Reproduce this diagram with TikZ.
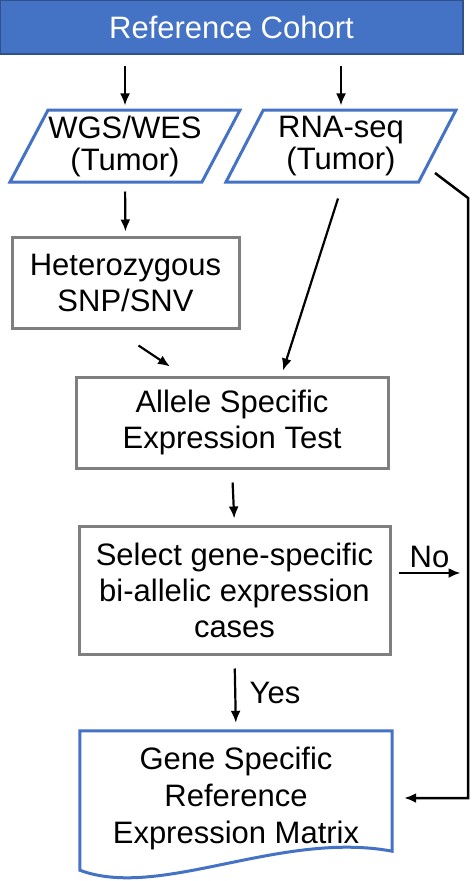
\documentclass[tikz,border=0pt]{standalone}
\usepackage{fontspec}
\setmainfont{Liberation Sans}
\usetikzlibrary{arrows.meta,shapes.geometric}
\definecolor{officeblue}{HTML}{4472C4}
\definecolor{darkblue}{HTML}{2F528F}
\definecolor{boxgray}{HTML}{7F7F7F}
\tikzstyle{title}=[rectangle, fill=officeblue, draw=darkblue, line width=2pt, text=white, font=\fontsize{31}{36}\selectfont]
\tikzstyle{data}=[trapezium, trapezium left angle=58, trapezium right angle=122, trapezium stretches body, draw=officeblue, line width=3pt, minimum width=230pt, minimum height=72pt, inner sep=0pt, align=center, font=\fontsize{31}{32}\selectfont]
\tikzstyle{process}=[rectangle, draw=boxgray, line width=3pt, align=center, font=\fontsize{31}{36}\selectfont]
\tikzstyle{doc}=[draw=officeblue, line width=3pt]
\tikzstyle{arrow}=[draw=black, line width=2.2pt, ->, >={Latex[length=12pt, width=10pt]}]

\begin{document}
\begin{tikzpicture}[x=1pt, y=-1pt]
		   \useasboundingbox (0,0) rectangle (474,881);
		   \begin{scope}
			   \node (0) at (231.5, 27)[title, minimum width=463pt, minimum height=54pt] {Reference Cohort};
			   \node (1) at (125, 146)[data] {WGS/WES\\(Tumor)};
			   \node (2) at (341, 146)[data] {RNA-seq\\(Tumor)};
			   \node (3) at (125.5, 282.5)[process, minimum width=227pt, minimum height=91pt] {Heterozygous\\SNP/SNV};
			   \node (4) at (232, 422.5)[process, minimum width=312pt, minimum height=91pt] {Allele Specific\\Expression Test};
			   \node (5) at (234.5, 590)[process, minimum width=311pt, minimum height=128pt] {Select gene-specific\\bi-allelic expression\\cases};
			   \node (6) at (236, 798)[rectangle, minimum width=312pt, minimum height=134pt, align=center, font=\fontsize{31}{37}\selectfont] {Gene Specific\\Reference\\Expression Matrix};
			   \coordinate (7) at (468, 198);
		   \end{scope}
		   \begin{scope}
			   \draw [doc] ([yshift=-5pt]6.south west) -- (6.north west) -- (6.north east) -- ([yshift=14pt]6.south east)
				   .. controls +(-112,-21) and +(80,30) .. ([yshift=-5pt]6.south west) -- cycle;
			   \draw [arrow, shorten <=11pt, shorten >=3pt] (0.south -| 1.north) -- (1.north);
			   \draw [arrow, shorten <=11pt, shorten >=3pt] (0.south -| 2.north) -- (2.north);
			   \draw [arrow, shorten <=8pt, shorten >=4pt] (1.south) -- (3.north);
			   \draw [arrow] ([xshift=13pt, yshift=-16pt]3.south) -- ([xshift=-62pt, yshift=9pt]4.north);
			   \draw [arrow] ([xshift=-3pt, yshift=-15pt]2.south) -- ([xshift=51pt, yshift=5pt]4.north);
			   \draw [arrow, shorten <=13pt, shorten >=6pt] (4.south) -- (5.north);
			   \draw [arrow] ([xshift=7pt, yshift=17pt]5.east) -- ++(62,0)
				   node [midway, above=1pt, font=\fontsize{31}{34}\selectfont] (8) {No};
			   \draw [arrow, shorten <=13pt, shorten >=8pt] (5.south) -- (6.north)
				   node [midway, right=10pt, font=\fontsize{31}{34}\selectfont] (9) {Yes};
			   \draw [arrow, line width=2.5pt, shorten >=12pt] ([xshift=-4pt, yshift=-27pt]2.east) -- (7) -- (7 |- 6.east) -- (6.east);
		   \end{scope}
	   \end{tikzpicture}
\end{document}
